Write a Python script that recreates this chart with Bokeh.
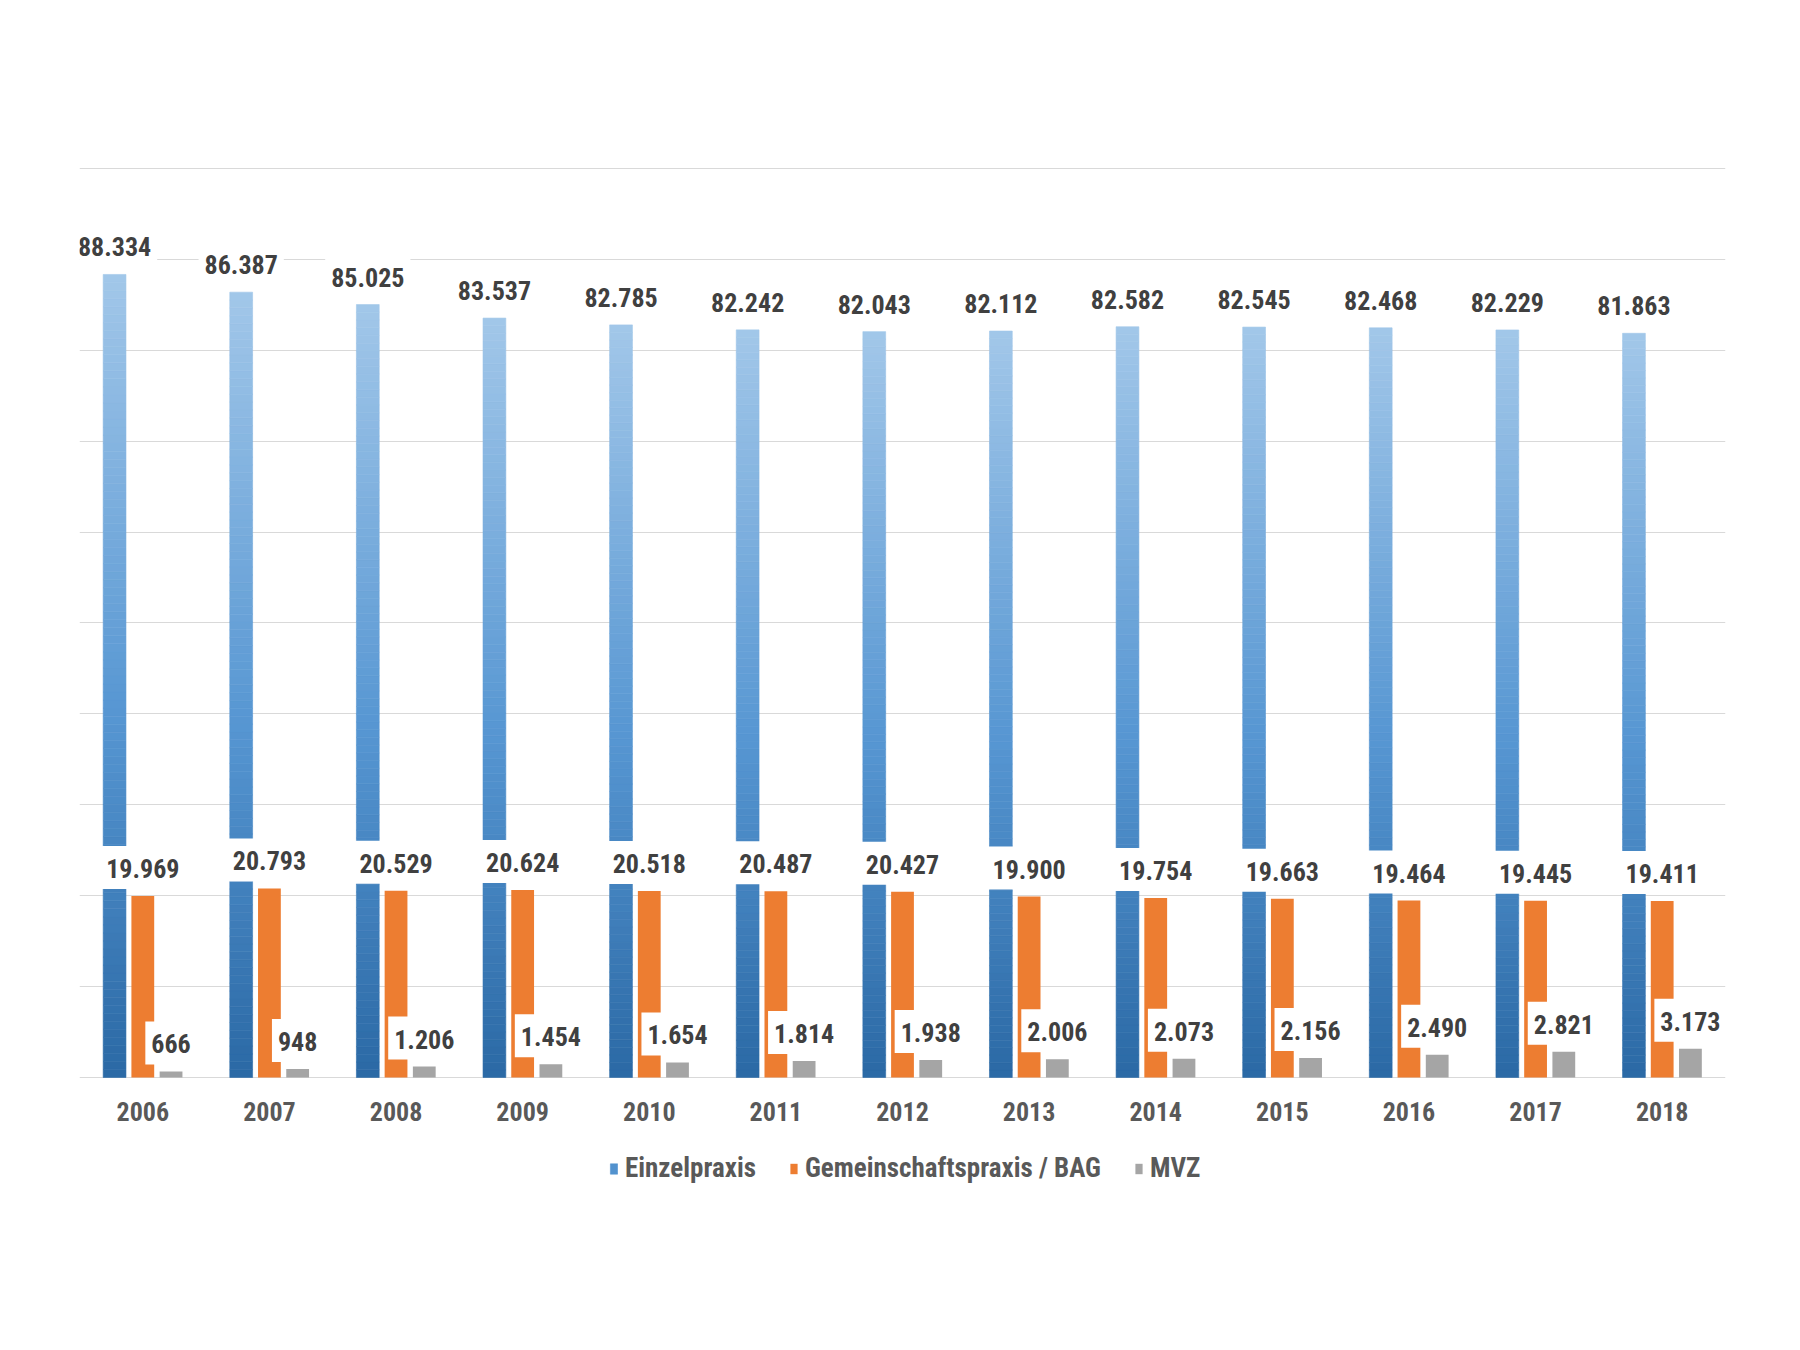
from bokeh.plotting import figure
from bokeh.models import ColumnDataSource, Range1d, FactorRange, Legend, LegendItem, FixedTicker
from bokeh.transform import dodge
from bokeh.core.properties import value
from bokeh.embed import file_html
from bokeh.resources import INLINE

years = ["2006", "2007", "2008", "2009", "2010", "2011", "2012",
         "2013", "2014", "2015", "2016", "2017", "2018"]
einzelpraxis = [88334, 86387, 85025, 83537, 82785, 82242, 82043,
                82112, 82582, 82545, 82468, 82229, 81863]
gemeinschaft = [19969, 20793, 20529, 20624, 20518, 20487, 20427,
                19900, 19754, 19663, 19464, 19445, 19411]
mvz = [666, 948, 1206, 1454, 1654, 1814, 1938,
       2006, 2073, 2156, 2490, 2821, 3173]
series_names = ["Einzelpraxis", "Gemeinschaftspraxis / BAG", "MVZ"]
grid_ticks = list(range(0, 100001, 10000))

FONT = "Roboto Condensed"
FSIZE = "26px"
LABEL_COLOR = "#404040"
AXIS_COLOR = "#595959"
BAR_W = 0.18
OFF = 0.223

# layout (screen px): frame top at 167, value 0 at 1077, frame bottom at 1250
Y_END = 100100
FRAME_TOP, BASE_PX, FRAME_BOTTOM = 167, 1077, 1250
Y_START = -Y_END * (FRAME_BOTTOM - BASE_PX) / (BASE_PX - FRAME_TOP)


def fmt(v):
    return f"{v:,}".replace(",", ".")


def lerp_hex(c1, c2, t):
    a = [int(c1[i:i + 2], 16) for i in (1, 3, 5)]
    b = [int(c2[i:i + 2], 16) for i in (1, 3, 5)]
    return "#%02x%02x%02x" % tuple(round(a[k] + (b[k] - a[k]) * t) for k in range(3))


def grad(t):
    stops = [(0.0, "#2b69a5"), (0.45, "#5696d2"), (1.0, "#a2c7e9")]
    for (t0, c0), (t1, c1) in zip(stops[:-1], stops[1:]):
        if t <= t1:
            return lerp_hex(c0, c1, (t - t0) / (t1 - t0))
    return stops[-1][1]


p = figure(x_range=FactorRange(*years), y_range=Range1d(Y_START, Y_END),
           width=1800, height=1350, output_backend="svg", toolbar_location=None,
           min_border_left=79, min_border_right=75, min_border_top=FRAME_TOP,
           min_border_bottom=1350 - FRAME_BOTTOM)
p.outline_line_color = None
p.background_fill_color = "white"
p.border_fill_color = "white"
p.yaxis.visible = False
p.xaxis.visible = False
p.ygrid.ticker = FixedTicker(ticks=grid_ticks)
p.ygrid.grid_line_color = "#d9d9d9"
p.ygrid.grid_line_width = 1
p.xgrid.visible = False

# gradient Einzelpraxis bars built as thin slices of each value
N = 100
gx, gb, gt, gc = [], [], [], []
for y, v in zip(years, einzelpraxis):
    for i in range(N):
        gx.append(y)
        gb.append(v * i / N)
        gt.append(v * (i + 1) / N)
        gc.append(grad((i + 0.5) / N))
gsrc = ColumnDataSource(dict(x=gx, bottom=gb, top=gt, color=gc))
r_blue = p.vbar(x=dodge("x", -OFF, range=p.x_range), bottom="bottom", top="top",
                width=BAR_W, fill_color="color", line_color="color", line_width=0.6,
                source=gsrc)

src = ColumnDataSource(dict(
    year=years, ez=einzelpraxis, gp=gemeinschaft, mvz=mvz,
    base=[0] * len(years),
    ez_lab=[fmt(v) for v in einzelpraxis],
    gp_lab=[fmt(v) for v in gemeinschaft],
    mvz_lab=[fmt(v) for v in mvz],
))
r_orange = p.vbar(x="year", top="gp", width=BAR_W, fill_color="#ed7d31",
                  line_color=None, source=src)
r_gray = p.vbar(x=dodge("year", OFF, range=p.x_range), top="mvz", width=BAR_W,
                fill_color="#a5a5a5", line_color=None, source=src)

# padding order: (left, right, top, bottom)
common = dict(text_font=value(FONT), text_font_style="bold", text_font_size=FSIZE,
              text_color=LABEL_COLOR, text_align="center", text_baseline="bottom",
              background_fill_color="white", padding=(6, 6, 13, 11), y_offset=-7,
              source=src)
p.text(x=dodge("year", -OFF, range=p.x_range), y="ez", text="ez_lab", **common)
p.text(x="year", y="gp", text="gp_lab", **common)
p.text(x=dodge("year", OFF, range=p.x_range), y="mvz", text="mvz_lab", **common)

# category (year) labels under the baseline
p.text(x="year", y="base", text="year", text_font=value(FONT), text_font_style="bold",
       text_font_size=FSIZE, text_color=AXIS_COLOR, text_align="center",
       text_baseline="middle", y_offset=34, source=src)

legend = Legend(items=[
    LegendItem(label=series_names[0], renderers=[r_blue], index=40),
    LegendItem(label=series_names[1], renderers=[r_orange], index=0),
    LegendItem(label=series_names[2], renderers=[r_gray], index=0),
], orientation="horizontal", location=(530, 66))
legend.glyph_width = 9
legend.glyph_height = 13
legend.label_standoff = 7
legend.spacing = 33
legend.padding = 0
legend.margin = 0
legend.border_line_color = None
legend.background_fill_alpha = 0
legend.label_text_font = FONT
legend.label_text_font_style = "bold"
legend.label_text_font_size = "27px"
legend.label_text_color = AXIS_COLOR
legend.label_height = 30
p.add_layout(legend, "center")

open("out.html", "w").write(file_html(p, INLINE))
